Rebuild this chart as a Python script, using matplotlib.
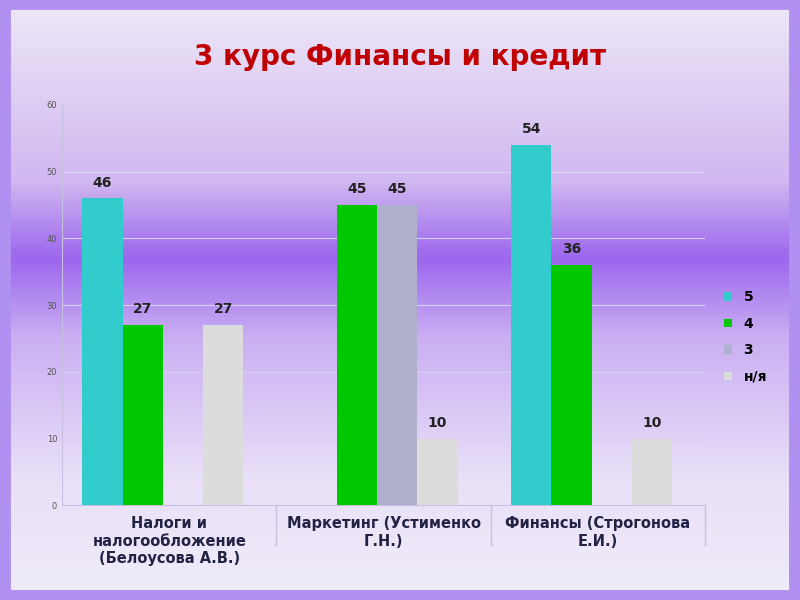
import matplotlib
matplotlib.use("Agg")
import matplotlib.pyplot as plt
import numpy as np
from matplotlib.colors import LinearSegmentedColormap

categories = ["Налоги и\nналогообложение\n(Белоусова А.В.)", "Маркетинг (Устименко\nГ.Н.)", "Финансы (Строгонова\nЕ.И.)"]
series = ["5", "4", "3", "н/я"]
values = {
    "5": [46, 0, 54],
    "4": [27, 45, 36],
    "3": [0, 45, 0],
    "н/я": [27, 10, 10],
}
colors = ["#33CCCC", "#00C800", "#AEB0CC", "#DCDCDC"]

fig = plt.figure(figsize=(8, 6), dpi=100)
bg = fig.add_axes([0, 0, 1, 1])
cmap = LinearSegmentedColormap.from_list("bg", [(0, "#EEE8F8"), (0.3, "#D0B8F0"), (0.43, "#9C66EE"), (0.56, "#C9AEF2"), (0.8, "#E9E0F8"), (1, "#F0ECF8")])
grad = np.linspace(0, 1, 300).reshape(-1, 1)
bg.imshow(grad, aspect="auto", cmap=cmap, extent=[0, 1, 0, 1])
bg.add_patch(plt.Rectangle((0.005, 0.005), 0.99, 0.99, fill=False, ec="#B090F0", lw=10, transform=bg.transAxes))
bg.axis("off")

fig.text(0.5, 0.905, "3 курс Финансы и кредит", ha="center", va="center", fontsize=20, fontweight="bold", color="#C00000", fontfamily="DejaVu Sans")

ax = fig.add_axes([0.0775, 0.158, 0.804, 0.667])
ax.patch.set_alpha(0)
x = np.arange(len(categories))
w = 0.1875
for i, s in enumerate(series):
    vals = values[s]
    pos = x + (i - 1.5) * w - 0.03
    ax.bar(pos, vals, w, color=colors[i], label=s, zorder=3)
    for p, v in zip(pos, vals):
        if v:
            ax.text(p, v + 1.3, str(v), ha="center", va="bottom", fontsize=10, fontweight="bold", color="#222222")
ax.set_xlim(-0.5, 2.5)
ax.set_ylim(0, 60)
ax.set_yticks(range(0, 61, 10))
ax.tick_params(axis="y", labelsize=6, colors="#555555", length=0)
ax.grid(axis="y", color="#D8D0F0", lw=0.8, zorder=0)
ax.set_xticks(x)
ax.set_xticklabels(categories, fontsize=10.5, fontweight="bold", color="#222244")
ax.tick_params(axis="x", length=0, pad=8)
for xb in [0.5, 1.5, 2.5]:
    ax.plot([xb, xb], [0, -6], color="#C8C0E0", lw=1, clip_on=False)
for sp in ["top", "right"]:
    ax.spines[sp].set_visible(False)
ax.spines["left"].set_color("#C8C0E0")
ax.spines["bottom"].set_color("#C8C0E0")
ax.legend(loc="center left", bbox_to_anchor=(1.01, 0.42), frameon=False, handlelength=0.6, handleheight=0.6, labelspacing=0.9, prop={"weight": "bold", "size": 10})
fig.savefig("out.png", dpi=100)
